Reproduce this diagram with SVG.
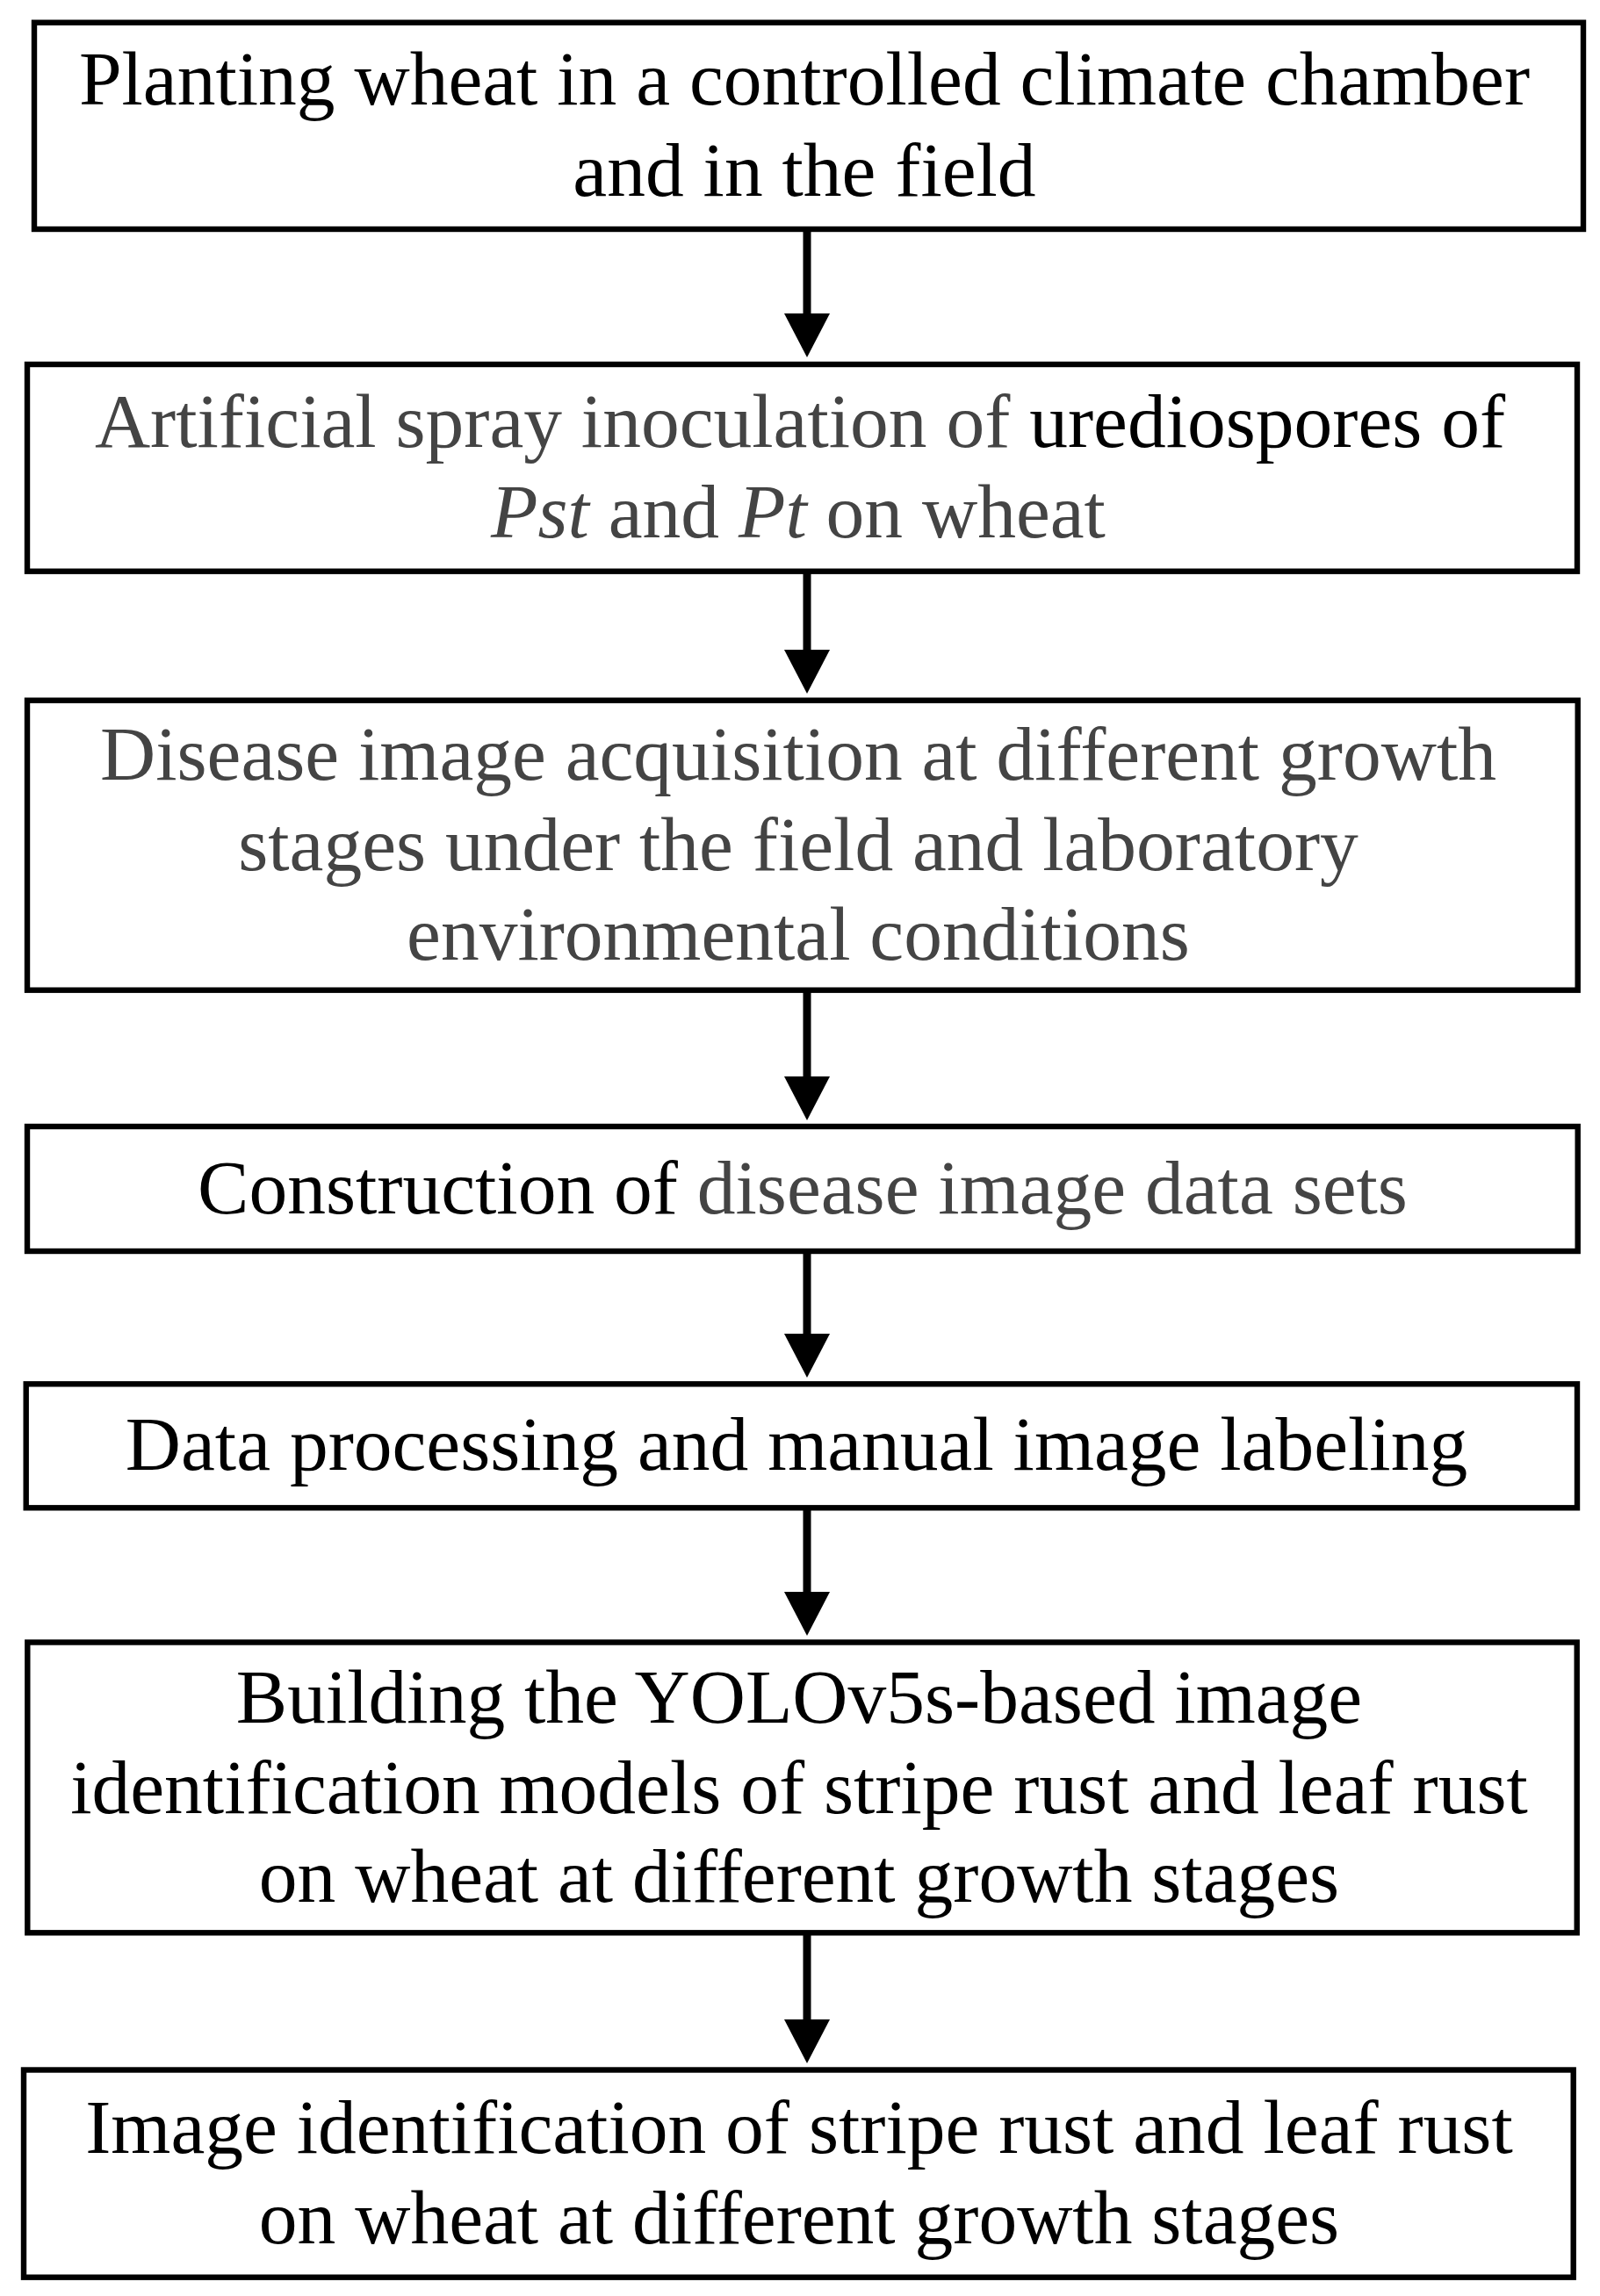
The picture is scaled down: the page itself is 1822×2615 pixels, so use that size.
<svg xmlns="http://www.w3.org/2000/svg" width="1822" height="2615" viewBox="0 0 1822 2615">
  <style>
    .box { fill: #ffffff; stroke: #000000; stroke-width: 6.4; }
    .t { font-family: "Liberation Serif", "Times New Roman", serif; font-size: 87.5px; text-anchor: middle; fill: #000000; }
    .g { fill: #444444; }
    .k { fill: #000000; }
    .i { font-style: italic; }
    .conn { stroke: #000000; stroke-width: 9; fill: none; marker-end: url(#ah); }
  </style>
  <defs>
    <marker id="ah" markerUnits="userSpaceOnUse" markerWidth="52" markerHeight="54" refX="1" refY="26" orient="auto" viewBox="0 0 52 54">
      <path d="M0,0 L50,26 L0,52 Z" fill="#000000"/>
    </marker>
  </defs>
  <rect width="1822" height="2615" fill="#ffffff"/>

  <g id="connectors">
    <line class="conn" x1="919" y1="261" x2="919" y2="358"/>
    <line class="conn" x1="919" y1="651" x2="919" y2="741"/>
    <line class="conn" x1="919" y1="1128" x2="919" y2="1227"/>
    <line class="conn" x1="919" y1="1425" x2="919" y2="1520"/>
    <line class="conn" x1="919" y1="1717" x2="919" y2="1814"/>
    <line class="conn" x1="919" y1="2201" x2="919" y2="2301"/>
  </g>

  <g id="node1">
    <rect class="box" x="39" y="25.7" width="1764" height="235.3"/>
    <text class="t" x="916" y="119">Planting wheat in a controlled climate chamber</text>
    <text class="t" x="916" y="223">and in the field</text>
  </g>

  <g id="node2">
    <rect class="box" x="31" y="415" width="1765" height="235.7"/>
    <text class="t" x="911" y="509"><tspan class="g">Artificial spray inoculation of </tspan><tspan class="k">urediospores of</tspan></text>
    <text class="t g" x="909" y="612"><tspan class="i">Pst</tspan> and <tspan class="i">Pt</tspan> on wheat</text>
  </g>

  <g id="node3">
    <rect class="box" x="31" y="797.7" width="1765.7" height="330"/>
    <text class="t g" x="909" y="888">Disease image acquisition at different growth</text>
    <text class="t g" x="909" y="991">stages under the field and laboratory</text>
    <text class="t g" x="909" y="1093">environmental conditions</text>
  </g>

  <g id="node4">
    <rect class="box" x="31" y="1283" width="1765.7" height="142"/>
    <text class="t" x="914" y="1382"><tspan class="k">Construction of </tspan><tspan class="g">disease image data sets</tspan></text>
  </g>

  <g id="node5">
    <rect class="box" x="29.7" y="1576.3" width="1766.3" height="141"/>
    <text class="t" x="907" y="1674">Data processing and manual image labeling</text>
  </g>

  <g id="node6">
    <rect class="box" x="31.3" y="1870.5" width="1764.4" height="330.8"/>
    <text class="t" x="910" y="1962">Building the YOLOv5s-based image</text>
    <text class="t" x="910" y="2065">identification models of stripe rust and leaf rust</text>
    <text class="t" x="910" y="2166">on wheat at different growth stages</text>
  </g>

  <g id="node7">
    <rect class="box" x="27" y="2357.5" width="1764.7" height="236.2"/>
    <text class="t" x="910" y="2452">Image identification of stripe rust and leaf rust</text>
    <text class="t" x="910" y="2555">on wheat at different growth stages</text>
  </g>
</svg>
